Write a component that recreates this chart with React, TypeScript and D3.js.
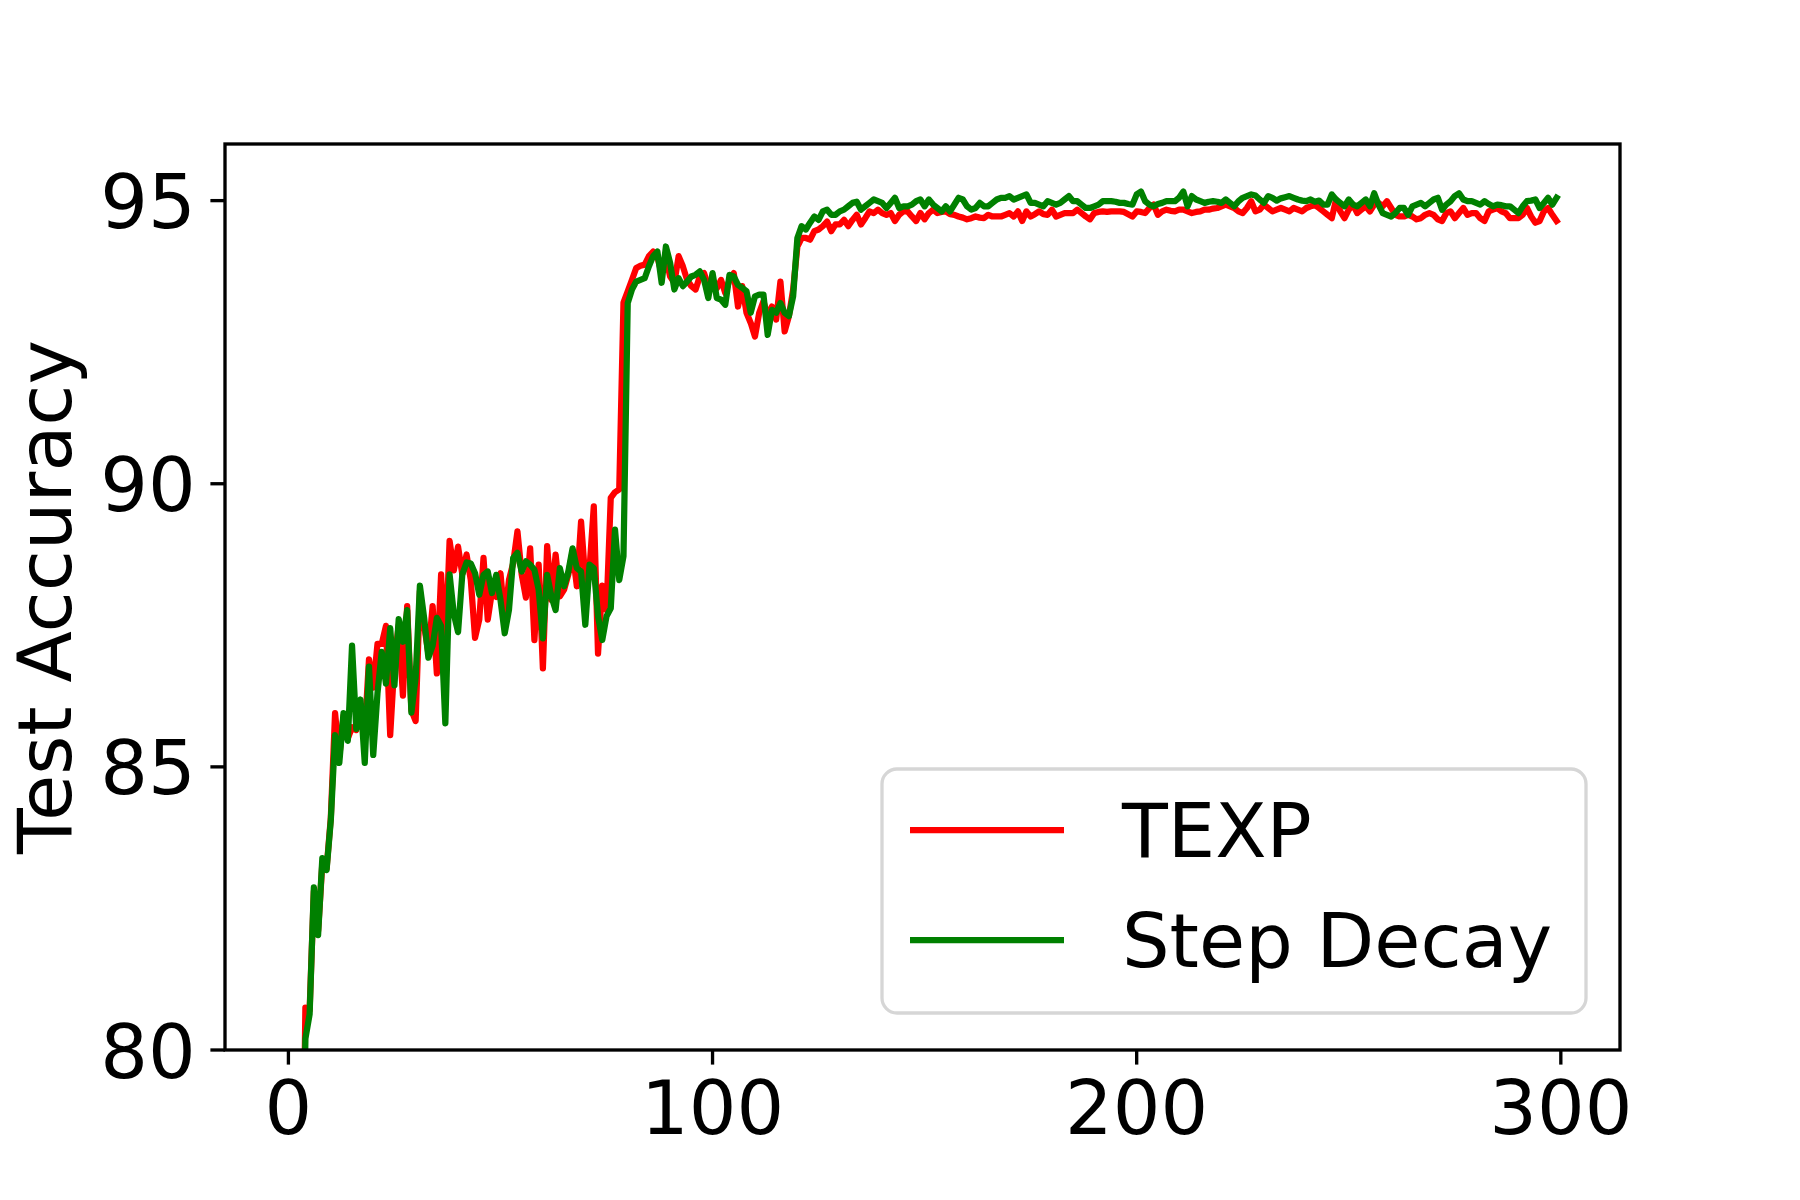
import React from "react";
import * as d3 from "d3";

const texp: number[] = [
  45.2, 60.1, 68.4, 74.9, 80.75, 80.7, 82.8, 82.1, 83.3, 83.2,
  84.1, 85.95, 85.18, 85.9, 85.5, 85.7, 85.65, 86.1, 85.6, 86.9,
  86.4, 87.17, 87.17, 87.49, 85.56, 86.86, 87.5, 86.26, 87.84, 86.0,
  85.81, 88.1, 87.5, 87.0, 87.84, 86.65, 88.4, 87.0, 88.99, 88.47,
  88.89, 88.4, 88.75, 88.3, 87.28, 87.6, 88.69, 87.6, 88.1, 88.0,
  88.42, 87.6, 88.3, 88.6, 89.16, 88.4, 87.99, 88.86, 87.24, 88.57,
  86.74, 88.9, 87.95, 88.75, 88.01, 88.13, 88.4, 88.8, 88.19, 89.33,
  88.3, 88.5, 89.6, 87.0, 88.2, 87.77, 89.75, 89.85, 89.9, 93.2,
  93.4, 93.6, 93.81, 93.85, 93.87, 94.02, 94.1, 94.0, 93.72, 94.0,
  93.66, 93.55, 94.02, 93.84, 93.6, 93.49, 93.43, 93.66, 93.72, 93.49,
  93.6, 93.45, 93.6, 93.37, 93.6, 93.72, 93.13, 93.49, 93.02, 92.84,
  92.6, 93.02, 93.22, 92.96, 93.13, 92.9, 93.57, 92.69, 92.96, 93.43,
  94.19, 94.34, 94.34, 94.31, 94.46, 94.49, 94.55, 94.63, 94.46, 94.58,
  94.58, 94.66, 94.55, 94.66, 94.75,
  94.58, 94.69, 94.81, 94.78, 94.84, 94.78, 94.75, 94.78, 94.64, 94.75,
  94.81, 94.81, 94.72, 94.64, 94.78, 94.67, 94.78, 94.84, 94.78, 94.8,
  94.81, 94.76, 94.75, 94.72, 94.7, 94.67, 94.69, 94.72, 94.7, 94.69,
  94.75, 94.72, 94.72, 94.72, 94.75, 94.78, 94.72, 94.81, 94.64, 94.81,
  94.72, 94.76, 94.81, 94.76, 94.75, 94.84, 94.72, 94.75, 94.78, 94.78,
  94.78, 94.84, 94.78, 94.72, 94.67, 94.78, 94.8, 94.81, 94.8, 94.81,
  94.81, 94.81, 94.8, 94.76, 94.72, 94.81, 94.8, 94.78, 94.87, 94.93,
  94.75, 94.81, 94.84, 94.82, 94.81, 94.84, 94.84, 94.81, 94.78, 94.8,
  94.81, 94.84, 94.84, 94.86, 94.87, 94.9, 94.93, 94.9, 94.87, 94.81,
  94.78, 94.87, 94.99, 94.81, 94.84, 94.93, 94.87, 94.81, 94.84, 94.87,
  94.84, 94.81, 94.87, 94.84, 94.81, 94.87, 94.9, 94.92, 94.87, 94.81,
  94.75, 94.69, 95.02, 94.81, 94.69, 94.84, 94.93, 94.78, 94.84, 94.9,
  94.81, 94.93, 94.96, 94.9, 94.99, 94.87, 94.75, 94.72, 94.72, 94.75,
  94.72, 94.67, 94.69, 94.75, 94.78, 94.75, 94.67, 94.64, 94.78, 94.81,
  94.69, 94.78, 94.87, 94.75, 94.78, 94.78, 94.69, 94.64, 94.81, 94.84,
  94.87, 94.81, 94.78, 94.69, 94.69, 94.69, 94.75, 94.87, 94.72, 94.61,
  94.64, 94.81, 94.87, 94.75, 94.64,
];

const stepDecay: number[] = [
  43.8, 59.2, 67.5, 73.6, 80.2, 80.63, 82.87, 82.03, 83.39, 83.18,
  84.06, 85.56, 85.07, 85.95, 85.46, 87.14, 85.67, 86.19, 85.07, 86.77,
  85.21, 86.3, 87.03, 86.47, 87.45, 86.44, 87.61, 87.21, 87.77, 85.96,
  86.58, 88.2, 87.63, 86.93, 87.14, 87.63, 87.49, 85.77, 88.4, 87.7,
  87.38, 88.4, 88.61, 88.59, 88.42, 88.04, 88.39, 88.45, 88.07, 88.39,
  87.95, 87.36, 87.77, 88.69, 88.78, 88.45, 88.63, 88.57, 88.48, 88.13,
  87.27, 88.39, 88.01, 87.77, 88.51, 88.19, 88.45, 88.86, 88.51, 88.45,
  87.51, 88.57, 88.51, 87.66, 87.24, 87.66, 87.8, 89.19, 88.3, 88.72,
  93.19, 93.43, 93.57, 93.6, 93.63, 93.84, 94.02, 94.1, 93.55, 94.19,
  93.9, 93.43, 93.63, 93.49, 93.57, 93.66, 93.69, 93.75, 93.6, 93.28,
  93.72, 93.28, 93.25, 93.16, 93.69, 93.66, 93.51, 93.46, 93.4, 93.02,
  93.31, 93.34, 93.34, 92.63, 93.07, 93.02, 93.19, 93.02, 92.96, 93.31,
  94.34, 94.55, 94.49, 94.61, 94.72, 94.66, 94.81, 94.84, 94.75, 94.75,
  94.81, 94.84, 94.9, 94.96, 94.98,
  94.84, 94.9, 94.96, 95.02, 94.99, 94.96, 94.87, 94.96, 95.05, 94.87,
  94.9, 94.9, 94.93, 94.99, 95.02, 94.9, 95.02, 94.93, 94.87, 94.81,
  94.9, 94.81, 94.93, 95.05, 95.02, 94.9, 94.84, 94.87, 94.96, 94.9,
  94.9, 94.96, 95.02, 95.05, 95.05, 95.08, 95.02, 95.05, 95.08, 95.11,
  94.96, 94.96, 94.93, 94.9, 94.99, 94.96, 94.93, 94.96, 95.02, 95.08,
  94.99, 94.99, 94.93, 94.87, 94.87, 94.9, 94.93, 94.99, 94.99, 94.99,
  94.98, 94.96, 94.96, 94.94, 94.93, 95.11, 95.16, 94.99, 94.93, 94.9,
  94.94, 94.96, 94.99, 94.99, 94.99, 95.05, 95.16, 94.9, 95.08, 95.02,
  94.99, 94.96, 94.98, 94.99, 94.98, 94.96, 95.02, 94.96, 94.9, 94.99,
  95.05, 95.08, 95.11, 95.09, 95.02, 94.96, 95.08, 95.05, 95.0, 95.04,
  95.06, 95.08, 95.05, 95.02, 95.0, 94.99, 95.02, 94.98, 95.0, 94.93,
  94.93, 95.11, 95.02, 94.96, 94.9, 95.02, 94.93, 94.9, 94.96, 95.02,
  94.9, 95.13, 94.93, 94.78, 94.75, 94.72, 94.78, 94.87, 94.87, 94.75,
  94.9, 94.93, 94.96, 94.9, 94.96, 95.02, 95.05, 94.84, 94.93, 94.99,
  95.08, 95.13, 95.02, 94.99, 94.99, 94.96, 94.93, 94.99, 94.94, 94.9,
  94.93, 94.92, 94.9, 94.9, 94.84, 94.78, 94.9, 94.99, 95.0, 95.02,
  94.87, 94.96, 95.05, 94.93, 95.05,
];

const seriesNames = ["TEXP", "Step Decay"];
const seriesColors = ["#ff0000", "#008000"];
const xTicks = [0, 100, 200, 300];
const yTicks = [80, 85, 90, 95];
const yLabel = "Test Accuracy";

const W = 1800;
const H = 1200;
const AX = { left: 225, right: 1620, top: 144, bottom: 1050 };
const FONT = "DejaVu Sans";
const FS = 75;
const TICK_W = 3.33;
const TICK_LEN = 14.6;
const PAD = 14.6;

export default function App() {
  const n = texp.length;
  const x = d3
    .scaleLinear()
    .domain([-0.05 * (n - 1), (n - 1) * 1.05])
    .range([AX.left, AX.right]);
  const y = d3.scaleLinear().domain([80, 96]).range([AX.bottom, AX.top]);

  const line = d3
    .line<number>()
    .x((_, i) => x(i))
    .y((d) => y(d));

  const series = [texp, stepDecay];

  const legX0 = 882;
  const legX1 = 1586;
  const legY0 = 769;
  const legY1 = 1013;
  const rowY = [830, 940];
  const handleX0 = 910;
  const handleX1 = 1064;
  const textX = 1122;

  return (
    <svg
      width={W}
      height={H}
      viewBox={`0 0 ${W} ${H}`}
      style={{ position: "absolute", left: 0, top: 0, background: "#ffffff" }}
      fontFamily={FONT}
    >
      <defs>
        <clipPath id="axclip">
          <rect
            x={AX.left}
            y={AX.top}
            width={AX.right - AX.left}
            height={AX.bottom - AX.top}
          />
        </clipPath>
      </defs>
      <rect x={0} y={0} width={W} height={H} fill="#ffffff" />

      <g clipPath="url(#axclip)">
        {series.map((s, k) => (
          <path
            key={k}
            d={line(s) || ""}
            fill="none"
            stroke={seriesColors[k]}
            strokeWidth={6.25}
            strokeLinejoin="round"
            strokeLinecap="square"
          />
        ))}
      </g>

      <rect
        x={AX.left}
        y={AX.top}
        width={AX.right - AX.left}
        height={AX.bottom - AX.top}
        fill="none"
        stroke="#000000"
        strokeWidth={TICK_W}
        strokeLinejoin="miter"
      />

      {xTicks.map((t) => (
        <g key={`x${t}`}>
          <line
            x1={x(t)}
            x2={x(t)}
            y1={AX.bottom}
            y2={AX.bottom + TICK_LEN}
            stroke="#000"
            strokeWidth={TICK_W}
          />
          <text
            x={x(t)}
            y={AX.bottom + TICK_LEN + PAD + 0.729 * FS}
            fontSize={FS}
            textAnchor="middle"
            fill="#000"
          >
            {t}
          </text>
        </g>
      ))}

      {yTicks.map((t) => (
        <g key={`y${t}`}>
          <line
            x1={AX.left - TICK_LEN}
            x2={AX.left}
            y1={y(t)}
            y2={y(t)}
            stroke="#000"
            strokeWidth={TICK_W}
          />
          <text
            x={AX.left - TICK_LEN - PAD}
            y={y(t) + 27.5}
            fontSize={FS}
            textAnchor="end"
            fill="#000"
          >
            {t}
          </text>
        </g>
      ))}

      <text
        transform={`translate(71, ${(AX.top + AX.bottom) / 2}) rotate(-90)`}
        fontSize={FS}
        textAnchor="middle"
        fill="#000"
      >
        {yLabel}
      </text>

      <rect
        x={legX0}
        y={legY0}
        width={legX1 - legX0}
        height={legY1 - legY0}
        rx={15}
        ry={15}
        fill="#ffffff"
        fillOpacity={0.8}
        stroke="#d6d6d6"
        strokeWidth={3.3}
      />
      {seriesNames.map((name, k) => (
        <g key={name}>
          <line
            x1={handleX0}
            x2={handleX1}
            y1={rowY[k]}
            y2={rowY[k]}
            stroke={seriesColors[k]}
            strokeWidth={6.25}
            strokeLinecap="butt"
          />
          <text x={textX} y={rowY[k] + 27} fontSize={FS} fill="#000">
            {name}
          </text>
        </g>
      ))}
    </svg>
  );
}
